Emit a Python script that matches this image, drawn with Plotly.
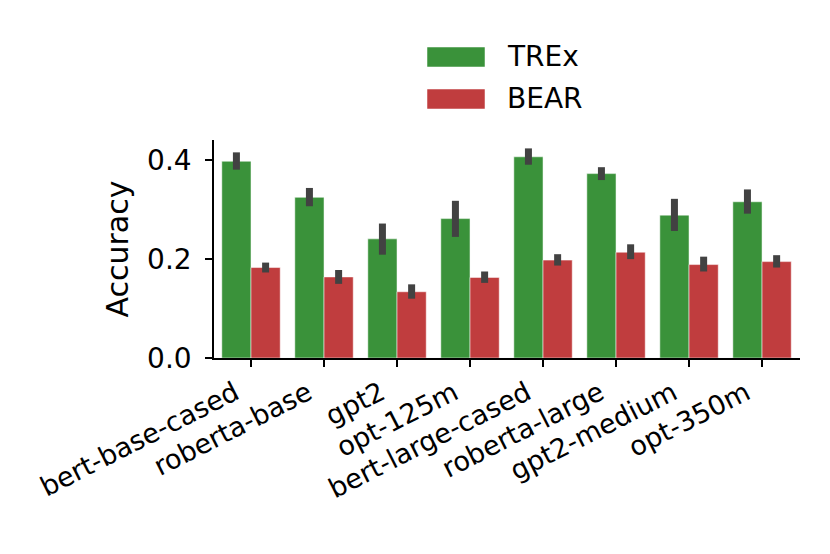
import plotly.graph_objects as go

# -------------------------------
# data
# -------------------------------
models = [
    "bert-base-cased", "roberta-base", "gpt2", "opt-125m",
    "bert-large-cased", "roberta-large", "gpt2-medium", "opt-350m",
]

trex = [0.398, 0.325, 0.241, 0.282, 0.407, 0.373, 0.289, 0.316]
trex_lo = [0.381, 0.307, 0.209, 0.245, 0.391, 0.360, 0.257, 0.292]
trex_hi = [0.416, 0.344, 0.272, 0.318, 0.424, 0.386, 0.322, 0.341]

bear = [0.183, 0.164, 0.134, 0.163, 0.198, 0.214, 0.189, 0.195]
bear_lo = [0.173, 0.150, 0.120, 0.152, 0.187, 0.200, 0.175, 0.183]
bear_hi = [0.193, 0.178, 0.149, 0.175, 0.210, 0.230, 0.205, 0.208]

y_ticks = [0.0, 0.2, 0.4]
y_ticklabels = ["0.0", "0.2", "0.4"]

series = [
    ("TREx", trex, trex_lo, trex_hi, "#3a923a"),
    ("BEAR", bear, bear_lo, bear_hi, "#c03d3e"),
]

FONT = "DejaVu Sans"

# figure size and plot area (page pixels; the page body adds an 8px offset)
W, H = 830, 554
OFF = 8
L, R, T, B = 214, 800, 140, 358


def px_x(x):
    return (x - L) / (R - L)


def px_y(y):
    return (B - y) / (B - T)


fig = go.Figure()
for name, vals, lo, hi, color in series:
    fig.add_trace(go.Bar(
        x=models,
        y=vals,
        name=name,
        marker=dict(color=color, line=dict(color="rgba(255,255,255,0.5)", width=1)),
        error_y=dict(
            type="data",
            symmetric=False,
            array=[h - v for h, v in zip(hi, vals)],
            arrayminus=[v - l for v, l in zip(vals, lo)],
            color="#424242",
            thickness=7,
            width=0,
        ),
        showlegend=False,
    ))

# legend drawn by hand (matplotlib-style wide patches)
shapes = []
annotations = []
for i, (name, _, _, _, color) in enumerate(series):
    y0 = 47 + i * 42
    shapes.append(dict(
        type="rect", xref="paper", yref="paper",
        x0=px_x(427), x1=px_x(485), y0=px_y(y0 + 20), y1=px_y(y0),
        fillcolor=color, line=dict(color="rgba(255,255,255,0.5)", width=1),
    ))
    annotations.append(dict(
        text=name, xref="paper", yref="paper",
        x=px_x(505), y=px_y(y0 + 10), xanchor="left", yanchor="middle",
        showarrow=False, font=dict(family=FONT, size=28, color="black"),
    ))

fig.update_layout(
    width=W, height=H,
    margin=dict(l=L - OFF, r=W - (R - OFF), t=T - OFF, b=H - (B - OFF), pad=0),
    plot_bgcolor="white",
    paper_bgcolor="white",
    barmode="group",
    bargap=0.2,
    bargroupgap=0,
    font=dict(family=FONT, size=28, color="black"),
    shapes=shapes,
    annotations=annotations,
    xaxis=dict(
        range=[-0.507, 7.52],
        showline=True, linecolor="black", linewidth=1.6,
        ticks="outside", ticklen=7, tickwidth=1.6, tickcolor="black",
        tickangle=-27,
        ticklabelshift=-16,
        tickfont=dict(family=FONT, size=27),
        showgrid=False, zeroline=False,
    ),
    yaxis=dict(
        range=[0, 0.441],
        tickvals=y_ticks, ticktext=y_ticklabels,
        showline=True, linecolor="black", linewidth=1.6,
        ticks="outside", ticklen=7, tickwidth=1.6, tickcolor="black",
        ticklabelstandoff=8,
        tickfont=dict(family=FONT, size=28),
        title=dict(text="Accuracy", font=dict(family=FONT, size=30), standoff=10),
        showgrid=False, zeroline=False,
    ),
)

fig.write_html("out.html")
